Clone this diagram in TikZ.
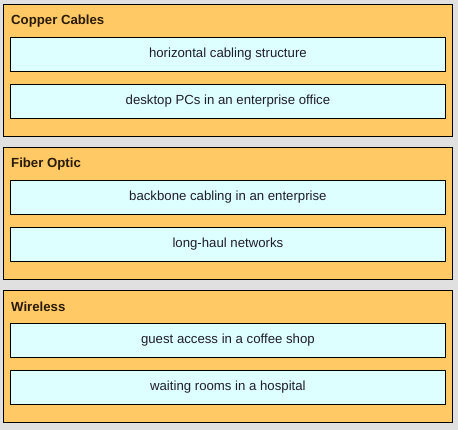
\documentclass[tikz,border=0pt]{standalone}
\usepackage{fontspec}
\setmainfont{Liberation Sans}
\definecolor{pagegrey}{HTML}{E0E0E0}
\definecolor{panelfill}{HTML}{FFC966}
\definecolor{boxfill}{HTML}{DDFFFF}
\definecolor{textdark}{HTML}{1E1E2A}
\definecolor{headdark}{HTML}{2A1A08}
\begin{document}
\begin{tikzpicture}[x=1pt,y=-1pt,
    panel/.style={draw=black, line width=0.8pt, fill=panelfill, anchor=north west,
      inner sep=0pt, minimum width=449pt, minimum height=132pt},
    item/.style={draw=black, line width=0.8pt, fill=boxfill, anchor=north west,
      inner sep=0pt, minimum width=435pt, minimum height=34pt,
      text=textdark, font=\fontsize{13.2}{15}\selectfont},
    head/.style={anchor=west, inner sep=0pt, text=headdark,
      font=\bfseries\fontsize{13.2}{15}\selectfont}]
    \fill[pagegrey] (0,0) rectangle (458,430);
    % three groups of two items
    \foreach \i/\head/\one/\two in {0/Copper Cables/horizontal cabling structure/desktop PCs in an enterprise office,
        1/Fiber Optic/backbone cabling in an enterprise/long-haul networks,
        2/Wireless/guest access in a coffee shop/waiting rooms in a hospital}
    {
        \pgfmathsetmacro{\top}{4+143*\i}
        \node[panel] (panel\i) at (3,\top) {};
        \node[head] (head\i) at (11,\top+17) {\head};
        \node[item] (item\i a) at (10,\top+33) {\one};
        \node[item] (item\i b) at (10,\top+80) {\two};
    }
\end{tikzpicture}
\end{document}
